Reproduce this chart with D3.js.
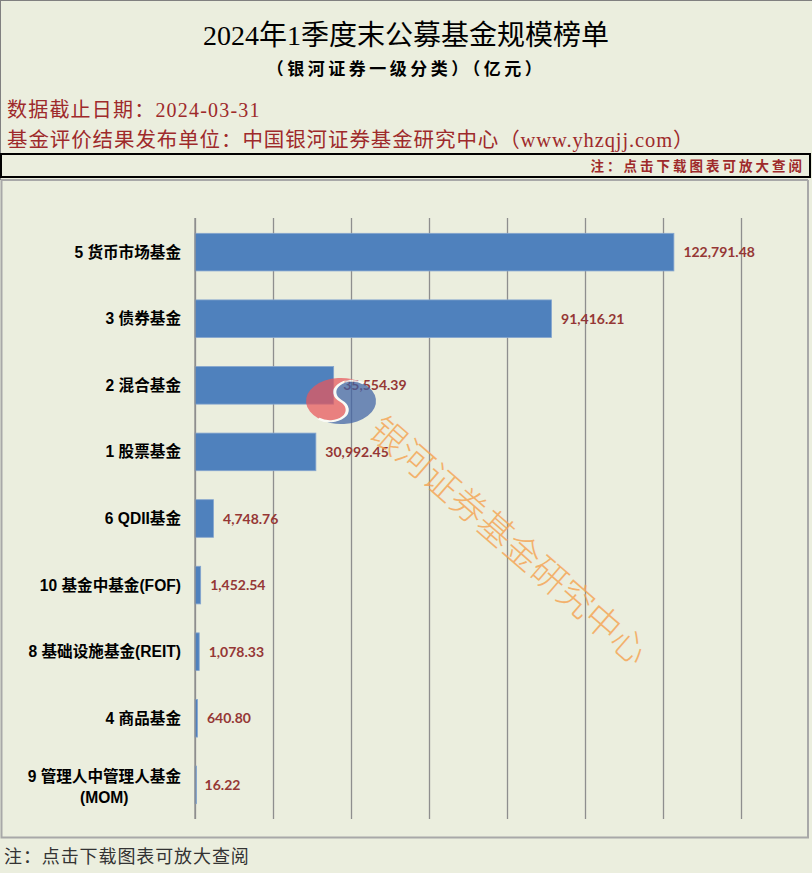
<!DOCTYPE html>
<html><head><meta charset="utf-8">
<script src="https://cdn.jsdelivr.net/npm/d3@7"></script>
<style>
html,body{margin:0;padding:0;background:#EBEEDE;}
svg{display:block;}
</style></head>
<body>
<script>
const categories = ["5 货币市场基金","3 债券基金","2 混合基金","1 股票基金","6 QDII基金","10 基金中基金(FOF)","8 基础设施基金(REIT)","4 商品基金","9 管理人中管理人基金\n(MOM)"];
const values = [122791.48, 91416.21, 35554.39, 30992.45, 4748.76, 1452.54, 1078.33, 640.80, 16.22];
const gridTicks = [0,20000,40000,60000,80000,100000,120000,140000];
const title = "2024年1季度末公募基金规模榜单";
const subtitle = "（银河证券一级分类）（亿元）";
const dateLine = "数据截止日期：2024-03-31";
const publisher = "基金评价结果发布单位：中国银河证券基金研究中心（www.yhzqjj.com）";
const note = "注：点击下载图表可放大查阅";
const watermark = "银河证券基金研究中心";

const W = 812, H = 873;
const svg = d3.select("body").append("svg").attr("width", W).attr("height", H);
const serif = "'Liberation Serif','Noto Sans CJK SC',serif";
const sans = "'Liberation Sans','Noto Sans CJK SC',sans-serif";

svg.append("rect").attr("width", W).attr("height", H).attr("fill", "#EBEEDE");
// outer frame top/left
svg.append("line").attr("x1",0).attr("y1",0.5).attr("x2",W).attr("y2",0.5).attr("stroke","#808080");
svg.append("line").attr("x1",0.5).attr("y1",0).attr("x2",0.5).attr("y2",180).attr("stroke","#808080");

// header texts
svg.append("text").attr("x", 406).attr("y", 45).attr("text-anchor","middle")
  .attr("font-family", serif).attr("font-size", 28).attr("fill","#000").text(title);
svg.append("text").attr("x", 406).attr("y", 75).attr("text-anchor","middle")
  .attr("font-family", serif).attr("font-size", 17).attr("font-weight","bold").attr("letter-spacing",3.5)
  .attr("fill","#000").text(subtitle);
svg.append("text").attr("x", 7).attr("y", 117)
  .attr("font-family", serif).attr("font-size", 20).attr("letter-spacing",1.2).attr("fill","#9E2A2B").text(dateLine);
svg.append("text").attr("x", 7).attr("y", 147)
  .attr("font-family", serif).attr("font-size", 20.5).attr("letter-spacing",0.9).attr("fill","#9E2A2B").text(publisher);

// header note box
svg.append("rect").attr("x",1).attr("y",154).attr("width",809).attr("height",23)
  .attr("fill","none").attr("stroke","#000").attr("stroke-width",2);
svg.append("text").attr("x", 805).attr("y", 171).attr("text-anchor","end")
  .attr("font-family", serif).attr("font-size", 13.5).attr("font-weight","bold")
  .attr("letter-spacing", 3).attr("fill","#9E2A2B").text(note);

// chart area frame
svg.append("path").attr("d","M1,180 H808 M1.5,180 V837.5 H808 V180")
  .attr("fill","none").attr("stroke","#A8A8A8").attr("stroke-width",2);

// scales
const x = d3.scaleLinear().domain([0,140000]).range([195,741]);
const y = d3.scaleBand().domain(categories).range([218,819]).paddingInner(0.435).paddingOuter(0.23);

// gridlines via axis
const grid = svg.append("g").attr("transform","translate(0,218)")
  .call(d3.axisTop(x).tickValues(gridTicks).tickSize(-(819-218)).tickFormat(""));
grid.select(".domain").remove();
grid.selectAll(".tick line").attr("stroke","#8E8E8E").attr("stroke-width",1.3);

// bars
svg.append("g").selectAll("rect").data(values).join("rect")
  .attr("x", x(0)).attr("y", (d,i)=>y(categories[i]))
  .attr("width", d=>Math.max(1.5, x(d)-x(0))).attr("height", y.bandwidth())
  .attr("fill","#4F81BD").attr("stroke","#86A6CF").attr("stroke-width",0.8);

// left axis line
svg.append("line").attr("x1",195).attr("x2",195).attr("y1",218).attr("y2",819).attr("stroke","#8E8E8E").attr("stroke-width",1.3);

// category labels
const fmt = d3.format(",.2f");
categories.forEach((c,i)=>{
  const lines = c.split("\n");
  const cy = y(c) + y.bandwidth()/2;
  const g = svg.append("g");
  if (lines.length === 1) {
    g.append("text").attr("x",181).attr("y",cy+5.5).attr("text-anchor","end")
      .attr("font-family",sans).attr("font-size",15.6).attr("font-weight","bold").attr("fill","#000").text(lines[0]);
  } else {
    const t1 = g.append("text").attr("x",181).attr("y",cy-3).attr("text-anchor","end")
      .attr("font-family",sans).attr("font-size",15.6).attr("font-weight","bold").attr("fill","#000").text(lines[0]);
    const w = t1.node().getComputedTextLength();
    g.append("text").attr("x",181-w/2).attr("y",cy+18).attr("text-anchor","middle")
      .attr("font-family",sans).attr("font-size",15.6).attr("font-weight","bold").attr("fill","#000").text(lines[1]);
  }
});

// value labels
svg.append("g").selectAll("text").data(values).join("text")
  .attr("x", d=>Math.max(x(d), x(0)) + 9.5).attr("y",(d,i)=>y(categories[i])+y.bandwidth()/2+5)
  .attr("font-family","Lato,'Open Sans',sans-serif").attr("font-size",14).attr("font-weight","bold")
  .attr("fill","#953735").text(d=>fmt(d));

// watermark logo (taiji)
const logo = svg.append("g").attr("transform","translate(341,401) scale(35,23) rotate(40)").attr("opacity",0.72);
logo.append("path").attr("d","M0,-1 A1,1 0 0,0 0,1 A0.5,0.5 0 0,0 0,0 A0.5,0.5 0 0,1 0,-1 Z").attr("fill","#E9575B");
logo.append("path").attr("d","M0,-1 A1,1 0 0,1 0,1 A0.5,0.5 0 0,0 0,0 A0.5,0.5 0 0,1 0,-1 Z").attr("fill","#3F63A6");
logo.append("path").attr("d","M0,-1 A0.5,0.5 0 0,0 0,0 A0.5,0.5 0 0,1 0,1").attr("fill","none").attr("stroke","#fff").attr("stroke-width",0.09);

// watermark text
svg.append("text").attr("transform","translate(507,543) rotate(41)").attr("text-anchor","middle")
  .attr("dominant-baseline","middle")
  .attr("font-family","'Noto Sans CJK SC',sans-serif").attr("font-weight",300).attr("font-size",35.5)
  .attr("fill","#F5A24F").attr("opacity",0.8).text(watermark);

// bottom note
svg.append("text").attr("x",4).attr("y",863)
  .attr("font-family", serif).attr("font-size",18).attr("letter-spacing",0.9).attr("fill","#333").text(note);
</script>
</body></html>
